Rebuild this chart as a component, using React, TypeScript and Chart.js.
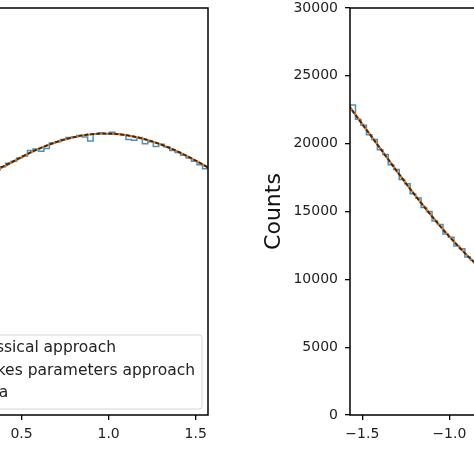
import React, { useEffect, useRef } from 'react';
import { Chart, registerables } from 'chart.js';

Chart.register(...registerables);

// ---------- data ----------
const X_MIN = -Math.PI / 2;
const X_MAX = Math.PI / 2;
const BIN_COUNT = 100;
const BIN_WIDTH = Math.PI / BIN_COUNT;
const X_STEP = 0.5;
const Y_MAX = 30000;
const Y_STEP = 5000;
const Y_TITLE = 'Counts';
const SERIES_LABELS = ['Classical approach', 'Stokes parameters approach', 'Data'];

// left panel (visible part)
const leftFitX = [0.35, 0.45, 0.55, 0.65, 0.75, 0.85, 0.95, 1.05, 1.15, 1.25, 1.35, 1.45, 1.55, 1.58];
const leftClassical = [18000, 18650, 19330, 19880, 20310, 20600, 20730, 20700, 20500, 20160, 19680, 19080, 18390, 18150];
const leftStokes = [18050, 18680, 19350, 19890, 20320, 20610, 20740, 20710, 20510, 20170, 19690, 19090, 18400, 18170];
const leftFirstBin = 61;
const leftCounts = [
  18050, 18300, 18550, 18700, 18950, 19100, 19500, 19600, 19450, 19650,
  20050, 20150, 20300, 20450, 20500, 20600, 20500, 20200, 20700, 20800,
  20750, 20850, 20700, 20650, 20300, 20250, 20450, 20000, 20150, 19800,
  19950, 19750, 19500, 19350, 19150, 18950, 18700, 18450, 18150,
];

// right panel (visible part)
const rightFitX = [-1.58, -1.5, -1.4, -1.3, -1.2, -1.1, -1.0, -0.9, -0.8, -0.7];
const rightClassical = [22850, 21450, 19700, 17950, 16250, 14650, 13150, 11800, 10550, 9400];
const rightStokes = [22820, 21430, 19690, 17940, 16240, 14640, 13140, 11790, 10540, 9390];
const rightFirstBin = 0;
const rightCounts = [
  22850, 21800, 21350, 20650, 20300, 19550, 19200, 18450, 18100, 17350,
  17050, 16300, 16000, 15300, 15000, 14300, 14050, 13350, 13100, 12450,
  12250, 11650, 11400, 10850, 10600, 10150,
];

// ---------- styling ----------
const FONT = 'DejaVu Sans';
const COLORS = { classical: '#e8761a', stokes: '#2e2a1e', data: '#4592c4' };

const framePlugin = {
  id: 'frame',
  afterDatasetsDraw(chart: any) {
    const { ctx, chartArea: a } = chart;
    ctx.save();
    ctx.strokeStyle = '#000';
    ctx.lineWidth = 1.5;
    ctx.strokeRect(a.left, a.top, a.right - a.left, a.bottom - a.top);
    ctx.restore();
  },
};

const legendPlugin = {
  id: 'insideLegend',
  afterDraw(chart: any, _args: any, opts: any) {
    if (!opts || !opts.show) return;
    const { ctx, chartArea: a } = chart;
    const ds = chart.data.datasets;
    ctx.save();
    ctx.font = `15.5px '${FONT}'`;
    const maxW = Math.max(...ds.map((d: any) => ctx.measureText(d.label).width));
    const pad = 7, handle = 30, gap = 12;
    const boxW = pad * 2 + handle + gap + maxW;
    const boxH = 74;
    const right = a.right - 6;
    const bottom = a.bottom - 6;
    const left = right - boxW;
    const top = bottom - boxH;
    ctx.beginPath();
    const r = 3;
    ctx.moveTo(left + r, top);
    ctx.arcTo(right, top, right, bottom, r);
    ctx.arcTo(right, bottom, left, bottom, r);
    ctx.arcTo(left, bottom, left, top, r);
    ctx.arcTo(left, top, right, top, r);
    ctx.closePath();
    ctx.fillStyle = 'rgba(255,255,255,0.8)';
    ctx.fill();
    ctx.strokeStyle = '#d6d6d6';
    ctx.lineWidth = 1;
    ctx.stroke();
    ds.forEach((d: any, i: number) => {
      const cy = top + 13 + i * 22.5;
      ctx.beginPath();
      ctx.setLineDash(d.borderDash || []);
      ctx.strokeStyle = d.borderColor;
      ctx.lineWidth = d.borderWidth;
      ctx.moveTo(left + pad, cy);
      ctx.lineTo(left + pad + handle, cy);
      ctx.stroke();
      ctx.setLineDash([]);
      ctx.fillStyle = '#222';
      ctx.textBaseline = 'middle';
      ctx.textAlign = 'left';
      ctx.fillText(d.label, left + pad + handle + gap, cy);
    });
    ctx.restore();
  },
};

const fmt = (v: number) => (v < 0 ? '\u2212' : '') + Math.abs(v).toFixed(1);

type PanelProps = {
  pageLeft: number;
  width: number;
  yAxisWidth: number;
  fitX: number[];
  classical: number[];
  stokes: number[];
  firstBin: number;
  counts: number[];
  showLegend: boolean;
};

function Panel(p: PanelProps) {
  const ref = useRef<HTMLCanvasElement | null>(null);
  useEffect(() => {
    if (!ref.current) return;
    const hist = p.counts.map((c, i) => ({ x: X_MIN + (p.firstBin + i) * BIN_WIDTH, y: c }));
    hist.push({ x: X_MIN + (p.firstBin + p.counts.length) * BIN_WIDTH, y: p.counts[p.counts.length - 1] });
    const tickFont = { family: FONT, size: 14 };
    const chart = new Chart(ref.current, {
      type: 'line',
      data: {
        datasets: [
          {
            label: SERIES_LABELS[0],
            data: p.fitX.map((x, i) => ({ x, y: p.classical[i] })),
            borderColor: COLORS.classical,
            borderWidth: 2.2,
            pointRadius: 0,
            cubicInterpolationMode: 'monotone',
            fill: false,
            order: 2,
          },
          {
            label: SERIES_LABELS[1],
            data: p.fitX.map((x, i) => ({ x, y: p.stokes[i] })),
            borderColor: COLORS.stokes,
            borderWidth: 1.8,
            borderDash: [4, 2],
            pointRadius: 0,
            cubicInterpolationMode: 'monotone',
            fill: false,
            order: 1,
          },
          {
            label: SERIES_LABELS[2],
            data: hist,
            borderColor: COLORS.data,
            borderWidth: 1.5,
            stepped: 'before',
            pointRadius: 0,
            fill: false,
            order: 3,
          },
        ],
      } as any,
      options: {
        animation: false,
        responsive: false,
        maintainAspectRatio: false,
        layout: { padding: { left: 0, right: 12, top: 8, bottom: 0 } },
        plugins: {
          legend: { display: false },
          tooltip: { enabled: false },
          insideLegend: { show: p.showLegend },
        } as any,
        scales: {
          x: {
            type: 'linear',
            min: X_MIN,
            max: X_MAX,
            border: { display: false },
            grid: { display: true, drawOnChartArea: false, drawTicks: true, tickLength: 5, tickColor: '#000', lineWidth: 1.3 },
            ticks: { stepSize: X_STEP, includeBounds: false, autoSkip: false, maxRotation: 0, padding: 6, font: tickFont, color: '#222', callback: (v: any) => fmt(Number(v)) },
            afterFit: (s: any) => { s.height = 59; s.paddingLeft = 0; s.paddingRight = 0; },
          },
          y: {
            type: 'linear',
            min: 0,
            max: Y_MAX,
            border: { display: false },
            grid: { display: true, drawOnChartArea: false, drawTicks: true, tickLength: 5, tickColor: '#000', lineWidth: 1.3 },
            ticks: { stepSize: Y_STEP, includeBounds: false, padding: 7, font: tickFont, color: '#222', callback: (v: any) => String(v) },
            title: { display: true, text: Y_TITLE, color: '#111', font: { family: FONT, size: 22 }, padding: { top: 21, bottom: 0 } },
            afterFit: (s: any) => { s.width = p.yAxisWidth; s.paddingTop = 0; s.paddingBottom = 0; },
          },
        },
      } as any,
      plugins: [framePlugin, legendPlugin],
    });
    return () => chart.destroy();
  }, []);
  return (
    <canvas
      ref={ref}
      width={p.width}
      height={474}
      style={{ position: 'absolute', left: p.pageLeft, top: 0, width: p.width, height: 474 }}
    />
  );
}

export default function App() {
  return (
    <div style={{ position: 'absolute', left: 0, top: 0, width: 474, height: 474, overflow: 'hidden', background: '#fff' }}>
      <Panel pageLeft={-420} width={640} yAxisWidth={81} fitX={leftFitX} classical={leftClassical} stokes={leftStokes} firstBin={leftFirstBin} counts={leftCounts} showLegend={true} />
      <Panel pageLeft={240} width={669} yAxisWidth={110} fitX={rightFitX} classical={rightClassical} stokes={rightStokes} firstBin={rightFirstBin} counts={rightCounts} showLegend={false} />
    </div>
  );
}
